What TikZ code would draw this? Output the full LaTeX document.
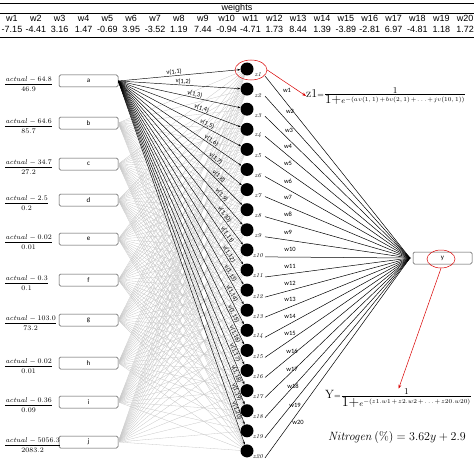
\documentclass[tikz,border=0pt]{standalone}
\usepackage[no-math]{fontspec}
\newfontfamily\calib{Carlito}
\newfontfamily\arialf{Liberation Sans}
\usepackage{amsmath}
\usetikzlibrary{arrows.meta,shapes.geometric}
\begin{document}
\begin{tikzpicture}[x=1pt,y=-1pt,
  inbox/.style={draw=black!70,rounded corners=1.5pt,minimum width=59pt,minimum height=12pt,inner sep=0pt,font=\calib\fontsize{7}{8}\selectfont,line width=0.5pt},
  hid/.style={circle,fill=black,minimum size=13pt,inner sep=0pt},
  zlab/.style={font=\itshape\fontsize{6}{7}\selectfont,inner sep=0pt},
  wlab/.style={font=\calib\fontsize{6.5}{7}\selectfont,inner sep=0pt},
  vlab/.style={font=\calib\fontsize{6.5}{7}\selectfont,sloped,above,inner sep=0.6pt},
  tab/.style={font=\arialf\fontsize{9}{10}\selectfont,inner sep=0pt},
  fracl/.style={anchor=west,inner sep=0pt,font=\fontsize{7}{8}\selectfont},
  grayln/.style={draw=black!22,line width=0.3pt},
  blkln/.style={draw=black,line width=0.45pt,-{Stealth[length=3pt,width=2.2pt]}},
  outln/.style={draw=black,line width=0.5pt},
  redln/.style={draw=red!85!black,line width=0.5pt},
  redring/.style={draw=red!85!black,ellipse,line width=0.5pt,inner sep=0pt},
]
\useasboundingbox (0,0) rectangle (474,460);
% table
\draw[line width=0.6pt] (0,3) -- (474,3);
\node[tab] (wt) at (237,8) {weights};
\draw[line width=0.4pt] (0,13) -- (474,13);
\foreach \v [count=\i] in {-7.15,-4.41,3.16,1.47,-0.69,3.95,-3.52,1.19,7.44,-0.94,-4.71,1.73,8.44,1.39,-3.89,-2.81,6.97,-4.81,1.18,1.72}{
  \node[tab] (wh\i) at ({12+(\i-1)*23.85},18.5) {w\i};
  \node[tab] (wv\i) at ({12+(\i-1)*23.85},29) {\v};
}
\draw[line width=0.6pt] (0,37) -- (474,37);
% inputs
\foreach \n/\yy/\num/\den in {a/81/64.8/46.9,b/123/64.6/85.7,c/164/34.7/27.2,d/200/2.5/0.2,e/239/0.02/0.01,f/280/0.3/0.1,g/320/103.0/73.2,h/363/0.02/0.01,i/402/0.36/0.09,j/442/5056.3/2083.2}{
  \node[inbox] (\n) at (88.5,\yy) {\n};
  \node[fracl] (fr\n) at (4,\yy+3) {$\dfrac{\mathit{actual}-\num}{\den}$};
}
% hidden nodes
\foreach \i in {1,...,20}{
  \pgfmathsetmacro\yz{69+(\i-1)*20.1}
  \node[hid] (z\i) at (247,\yz) {};
  \node[zlab] (zl\i) at (258,\yz+6) {z\i};
  \coordinate (s\i) at (265,\yz+7);
}
% output
\node[inbox] (y) at (442.5,258) {y};
\coordinate (cv) at (410,258);
% gray connections
\foreach \n in {b,c,d,e,f,g,h,i,j}{
  \foreach \i in {1,...,20}{
    \draw[grayln] (\n.east) -- (z\i);
  }
}
% black connections from a
\foreach \i/\p in {1/0.46,2/0.53,3/0.62,4/0.67,5/0.71,6/0.74,7/0.77,8/0.79,9/0.81,10/0.83,11/0.85,12/0.86,13/0.87,14/0.88,15/0.89,16/0.9,17/0.9,18/0.91,19/0.91,20/0.91}{
  \draw[blkln] (a.east) -- node[vlab,pos=\p] (v\i) {v(1,\i)} (z\i);
}
% hidden to output
\foreach \i in {1,...,20}{
  \draw[outln] (s\i) -- (cv);
}
\foreach \i/\xx/\yy in {1/287/90,2/290/111,3/289/130,4/288/146,5/288/163,6/288/181,7/288/197,8/288/214,9/288/232,10/290/249,11/290/266,12/290/283,13/290/299,14/290/316,15/290/333,16/292/351,17/292/369,18/293/386,19/295/405,20/298/422}{
  \node[wlab] (w\i) at (\xx,\yy) {w\i};
}
% red highlights
\node[redring,minimum width=32pt,minimum height=20pt] (rz) at (251,70) {};
\node[redring,minimum width=28pt,minimum height=18pt] (ry) at (441,259) {};
\node[anchor=west,inner sep=0pt] (fz) at (306,96) {$\hbox{\fontsize{12}{13}\selectfont z1}\hbox{\fontsize{8}{9}\selectfont =}\frac{\hbox{\fontsize{9}{10}\selectfont 1}}{\hbox{\fontsize{13}{14}\selectfont 1+}\hbox{\fontsize{8}{9}\selectfont$e^{\hbox{\fontsize{6.5}{7}\selectfont\medmuskip=2mu$-(av(1,1)+bv(2,1)+\ldots+jv(10,1))$}}$}}$};
\node[anchor=west,inner sep=0pt] (fy) at (325,398) {$\hbox{\fontsize{12}{13}\selectfont Y}\hbox{\fontsize{8}{9}\selectfont =}\frac{\hbox{\fontsize{9}{10}\selectfont 1}}{\hbox{\fontsize{14}{15}\selectfont 1+}\hbox{\fontsize{8}{9}\selectfont$e^{\hbox{\fontsize{6}{7}\selectfont\medmuskip=2mu$-(z1.w1+z2.w2+\ldots+z20.w20)$}}$}}$};
\draw[redln,-{Stealth[length=4pt,width=3pt]}] (rz.east) -- (fz.west);
\draw[redln,-{Stealth[length=4pt,width=3pt]}] (ry.south) -- (fy.north);
\node[anchor=west,inner sep=0pt,font=\fontsize{11.5}{12}\selectfont] (nit) at (328,437) {$\mathit{Nitrogen}\,(\%) = 3.62y + 2.9$};
\end{tikzpicture}
\end{document}
